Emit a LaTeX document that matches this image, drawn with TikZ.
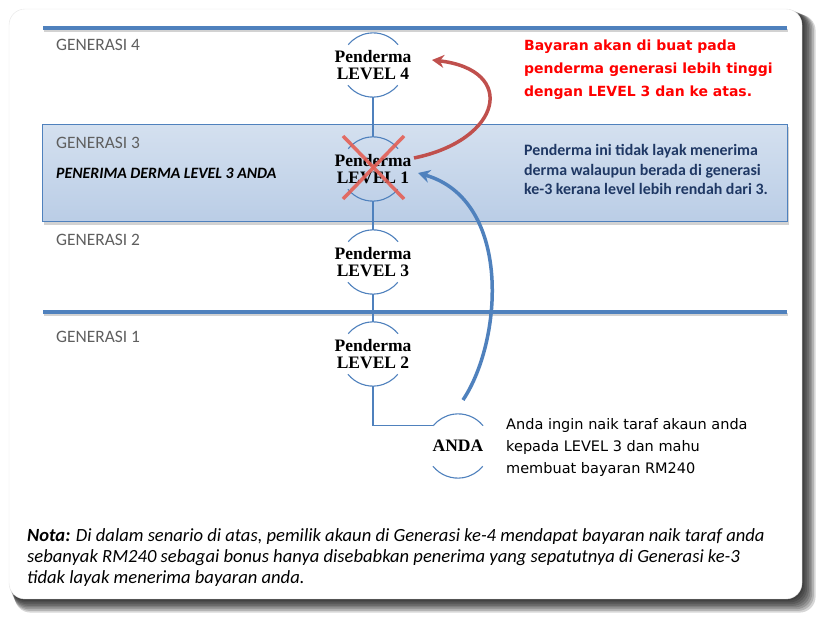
\documentclass[tikz,border=0pt]{standalone}
\usepackage{fontspec}
\newfontfamily\cali{Carlito}
\newfontfamily\komik{DejaVu Sans}
\newfontfamily\serifnod{Liberation Serif}
\usetikzlibrary{arrows.meta}
\definecolor{biru}{HTML}{4F81BD}
\definecolor{merahpanah}{HTML}{C0504D}
\definecolor{merahteks}{HTML}{FF0000}
\definecolor{silangmerah}{RGB}{228,96,86}
\definecolor{kelabu}{HTML}{5F5F5F}
\definecolor{birugelap}{HTML}{1F3864}
\definecolor{jalurA}{RGB}{212,224,239}
\definecolor{jalurB}{RGB}{186,205,230}

\begin{document}
\begin{tikzpicture}[x=1pt,y=1pt]
	\tikzstyle{every node}=[inner sep=0pt]
	\tikzstyle{penderma}=[circle, minimum size=64pt]
	\tikzstyle{teks}=[align=center, font=\serifnod\bfseries\fontsize{17.5}{17.5}\selectfont]
	\tikzstyle{gen}=[anchor=west, text=kelabu, font=\cali\fontsize{17.4}{20}\selectfont]
	\tikzstyle{bulat}=[draw=biru, line width=1.1pt]
	\tikzstyle{garis}=[biru, line width=4pt]
	\tikzstyle{panah}=[line width=3.5pt, -{Stealth[length=12pt,width=13pt,inset=4pt]}]
	
	\useasboundingbox (0,0) rectangle (830,623);
	
	%Kad dengan bayang
	\foreach \k in {1,...,8}
		\fill[black, opacity=0.16, rounded corners=16] (9+\k*0.7,24-\k*1.7) rectangle (802+\k*1.7,614-\k*0.7);
	\fill[white, rounded corners=16] (9,24) rectangle (802,614);
	\draw[gray!20, rounded corners=16] (9,24) rectangle (802,614);
	
	%Generasi 3 (jalur biru)
	\fill[gray!35] (44,398) rectangle (789,496);
	\shade[top color=jalurA, bottom color=jalurB] (42,401) rectangle (787,498);
	\draw[biru, line width=1pt] (42,401) rectangle (787,498);
	
	%Garisan generasi
	\draw[gray!35, line width=3pt] (44,592) -- (788,592);
	\draw[garis] (43,595) -- (787,595);
	\draw[gray!35, line width=3pt] (44,308) -- (788,308);
	\draw[garis] (43,311) -- (787,311);
	
	\node[gen] (g4) at (56,578) {GENERASI 4};
	\node[gen] (g3) at (56,480) {GENERASI 3};
	\node[gen] (g2) at (56,383) {GENERASI 2};
	\node[gen] (g1) at (56,286) {GENERASI 1};
	\node[anchor=west, font=\cali\bfseries\itshape\fontsize{15.8}{18}\selectfont] (penerima) at (56,450) {PENERIMA DERMA LEVEL 3 ANDA};
	
	%Penderma
	\node[penderma, label={[teks]center:Penderma\\LEVEL 4}] (p4) at (373,558) {};
	\node[penderma, label={[teks]center:Penderma\\LEVEL 1}] (p1) at (373,454) {};
	\node[penderma, label={[teks]center:Penderma\\LEVEL 3}] (p3) at (373,361) {};
	\node[penderma, label={[teks]center:Penderma\\LEVEL 2}] (p2) at (373,269) {};
	\node[penderma, label={[teks]center:ANDA}] (anda) at (458,177) {};
	\foreach \n in {p4,p1,p3,p2,anda}{
		\draw[bulat] (\n.39) arc (39:141:32);
		\draw[bulat] (\n.219) arc (219:321:32);
	}
	\draw[bulat] (p4.south) -- (p1.north);
	\draw[bulat] (p1.south) -- (p3.north);
	\draw[bulat] (p3.south) -- (p2.north);
	\draw[bulat] (p2.south) |- (anda.141);
	
	%Silang
	\draw[silangmerah, opacity=0.9, line width=3.5pt] ([shift={(-30,33)}]p1.center) -- ([shift={(31,-30)}]p1.center);
	\draw[silangmerah, opacity=0.9, line width=3.5pt] ([shift={(31,33)}]p1.center) -- ([shift={(-30,-30)}]p1.center);
	
	%Anak panah
	\coordinate (merahA) at (414,465);
	\coordinate (merahB) at (432,563);
	\draw[panah, merahpanah] (merahA) .. controls (502,483) and (518,553) .. (merahB);
	\coordinate (biruA) at (463,223);
	\coordinate (biruB) at (418,450);
	\draw[panah, biru] (biruA) .. controls (503,283) and (512,423) .. (biruB);
	
	%Keterangan
	\node[anchor=west, align=left, text=merahteks, font=\komik\bfseries\fontsize{14}{23}\selectfont] (ket4) at (524,553) {Bayaran akan di buat pada\\penderma generasi lebih tinggi\\dengan LEVEL 3 dan ke atas.};
	\node[anchor=west, align=left, text=birugelap, font=\cali\bfseries\fontsize{15.9}{19.5}\selectfont] (ket1) at (524,453.5) {Penderma ini tidak layak menerima\\derma walaupun berada di generasi\\ke-3 kerana level lebih rendah dari 3.};
	\node[anchor=west, align=left, font=\komik\fontsize{14.5}{22}\selectfont] (ketanda) at (506,175) {Anda ingin naik taraf akaun anda\\kepada LEVEL 3 dan mahu\\membuat bayaran RM240};
	\node[anchor=west, align=left, font=\cali\itshape\fontsize{18.6}{21}\selectfont] (nota) at (27,65) {\textbf{Nota:} Di dalam senario di atas, pemilik akaun di Generasi ke-4 mendapat bayaran naik taraf anda\\sebanyak RM240 sebagai bonus hanya disebabkan penerima yang sepatutnya di Generasi ke-3\\tidak layak menerima bayaran anda.};
\end{tikzpicture}
\end{document}
